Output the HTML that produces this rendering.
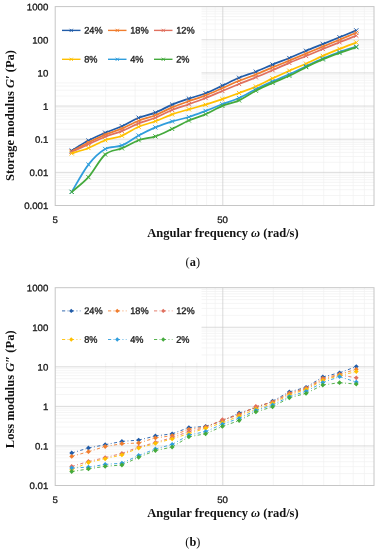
<!DOCTYPE html>
<html><head><meta charset="utf-8"><title>Figure</title>
<style>
html,body{margin:0;padding:0;background:#fff}
svg{display:block}
.ax{font-family:"Liberation Sans",Arial,sans-serif;font-size:10px;fill:#202020;stroke:#202020;stroke-width:.33px}
.lg{font-family:"Liberation Sans",Arial,sans-serif;font-size:10px;fill:#1c1c1c;stroke:#1c1c1c;stroke-width:.35px}
.ti{font-family:"Liberation Serif","Times New Roman",serif;font-size:12.5px;font-weight:bold;fill:#111}
.cp{font-family:"Liberation Serif","Times New Roman",serif;font-size:12.3px;fill:#111}
</style></head><body>
<svg width="377" height="550" viewBox="0 0 377 550">
<rect width="377" height="550" fill="#fff"/>
<g stroke="#f1f1f1" stroke-width="0.7"><line x1="55.2" x2="374.0" y1="29.77" y2="29.77"/><line x1="55.2" x2="374.0" y1="23.93" y2="23.93"/><line x1="55.2" x2="374.0" y1="19.79" y2="19.79"/><line x1="55.2" x2="374.0" y1="16.58" y2="16.58"/><line x1="55.2" x2="374.0" y1="13.95" y2="13.95"/><line x1="55.2" x2="374.0" y1="11.73" y2="11.73"/><line x1="55.2" x2="374.0" y1="9.81" y2="9.81"/><line x1="55.2" x2="374.0" y1="8.12" y2="8.12"/><line x1="55.2" x2="374.0" y1="62.92" y2="62.92"/><line x1="55.2" x2="374.0" y1="57.08" y2="57.08"/><line x1="55.2" x2="374.0" y1="52.94" y2="52.94"/><line x1="55.2" x2="374.0" y1="49.73" y2="49.73"/><line x1="55.2" x2="374.0" y1="47.10" y2="47.10"/><line x1="55.2" x2="374.0" y1="44.88" y2="44.88"/><line x1="55.2" x2="374.0" y1="42.96" y2="42.96"/><line x1="55.2" x2="374.0" y1="41.27" y2="41.27"/><line x1="55.2" x2="374.0" y1="96.07" y2="96.07"/><line x1="55.2" x2="374.0" y1="90.23" y2="90.23"/><line x1="55.2" x2="374.0" y1="86.09" y2="86.09"/><line x1="55.2" x2="374.0" y1="82.88" y2="82.88"/><line x1="55.2" x2="374.0" y1="80.25" y2="80.25"/><line x1="55.2" x2="374.0" y1="78.03" y2="78.03"/><line x1="55.2" x2="374.0" y1="76.11" y2="76.11"/><line x1="55.2" x2="374.0" y1="74.42" y2="74.42"/><line x1="55.2" x2="374.0" y1="129.22" y2="129.22"/><line x1="55.2" x2="374.0" y1="123.38" y2="123.38"/><line x1="55.2" x2="374.0" y1="119.24" y2="119.24"/><line x1="55.2" x2="374.0" y1="116.03" y2="116.03"/><line x1="55.2" x2="374.0" y1="113.40" y2="113.40"/><line x1="55.2" x2="374.0" y1="111.18" y2="111.18"/><line x1="55.2" x2="374.0" y1="109.26" y2="109.26"/><line x1="55.2" x2="374.0" y1="107.57" y2="107.57"/><line x1="55.2" x2="374.0" y1="162.37" y2="162.37"/><line x1="55.2" x2="374.0" y1="156.53" y2="156.53"/><line x1="55.2" x2="374.0" y1="152.39" y2="152.39"/><line x1="55.2" x2="374.0" y1="149.18" y2="149.18"/><line x1="55.2" x2="374.0" y1="146.55" y2="146.55"/><line x1="55.2" x2="374.0" y1="144.33" y2="144.33"/><line x1="55.2" x2="374.0" y1="142.41" y2="142.41"/><line x1="55.2" x2="374.0" y1="140.72" y2="140.72"/><line x1="55.2" x2="374.0" y1="195.52" y2="195.52"/><line x1="55.2" x2="374.0" y1="189.68" y2="189.68"/><line x1="55.2" x2="374.0" y1="185.54" y2="185.54"/><line x1="55.2" x2="374.0" y1="182.33" y2="182.33"/><line x1="55.2" x2="374.0" y1="179.70" y2="179.70"/><line x1="55.2" x2="374.0" y1="177.48" y2="177.48"/><line x1="55.2" x2="374.0" y1="175.56" y2="175.56"/><line x1="55.2" x2="374.0" y1="173.87" y2="173.87"/><line x1="105.65" x2="105.65" y1="6.6" y2="205.5"/><line x1="135.17" x2="135.17" y1="6.6" y2="205.5"/><line x1="156.11" x2="156.11" y1="6.6" y2="205.5"/><line x1="172.35" x2="172.35" y1="6.6" y2="205.5"/><line x1="185.62" x2="185.62" y1="6.6" y2="205.5"/><line x1="196.84" x2="196.84" y1="6.6" y2="205.5"/><line x1="206.56" x2="206.56" y1="6.6" y2="205.5"/><line x1="215.13" x2="215.13" y1="6.6" y2="205.5"/><line x1="273.25" x2="273.25" y1="6.6" y2="205.5"/><line x1="302.77" x2="302.77" y1="6.6" y2="205.5"/><line x1="323.71" x2="323.71" y1="6.6" y2="205.5"/><line x1="339.95" x2="339.95" y1="6.6" y2="205.5"/><line x1="353.22" x2="353.22" y1="6.6" y2="205.5"/><line x1="364.44" x2="364.44" y1="6.6" y2="205.5"/></g>
<g stroke="#cccccc" stroke-width="0.7"><line x1="55.2" x2="374.0" y1="39.75" y2="39.75"/><line x1="55.2" x2="374.0" y1="72.90" y2="72.90"/><line x1="55.2" x2="374.0" y1="106.05" y2="106.05"/><line x1="55.2" x2="374.0" y1="139.20" y2="139.20"/><line x1="55.2" x2="374.0" y1="172.35" y2="172.35"/><line x1="222.80" x2="222.80" y1="6.6" y2="205.5"/></g>
<rect x="55.2" y="6.6" width="146.3" height="75" fill="#fff"/>
<rect x="55.2" y="6.6" width="318.8" height="198.9" fill="none" stroke="#c6c6c6" stroke-width="1"/>
<path d="M71.70,150.60 C74.49,148.93 82.86,143.58 88.44,140.60 C94.02,137.62 99.60,135.08 105.18,132.70 C110.76,130.32 116.34,128.80 121.92,126.30 C127.50,123.80 133.08,119.98 138.66,117.70 C144.24,115.42 149.82,114.78 155.40,112.60 C160.98,110.42 166.56,106.93 172.14,104.60 C177.72,102.27 183.30,100.50 188.88,98.60 C194.46,96.70 200.04,95.37 205.62,93.20 C211.20,91.03 216.78,88.17 222.36,85.60 C227.94,83.03 233.52,80.12 239.10,77.80 C244.68,75.48 250.26,73.90 255.84,71.70 C261.42,69.50 267.00,66.88 272.58,64.60 C278.16,62.32 283.74,60.30 289.32,58.00 C294.90,55.70 300.48,53.12 306.06,50.80 C311.64,48.48 317.22,46.35 322.80,44.10 C328.38,41.85 333.96,39.58 339.54,37.30 C345.12,35.02 353.49,31.55 356.28,30.40" fill="none" stroke="#215ca8" stroke-width="1.75" stroke-linejoin="round"/>
<path d="M69.60,148.50 l4.2,4.2 m-4.2,0 l4.2,-4.2M86.34,138.50 l4.2,4.2 m-4.2,0 l4.2,-4.2M103.08,130.60 l4.2,4.2 m-4.2,0 l4.2,-4.2M119.82,124.20 l4.2,4.2 m-4.2,0 l4.2,-4.2M136.56,115.60 l4.2,4.2 m-4.2,0 l4.2,-4.2M153.30,110.50 l4.2,4.2 m-4.2,0 l4.2,-4.2M170.04,102.50 l4.2,4.2 m-4.2,0 l4.2,-4.2M186.78,96.50 l4.2,4.2 m-4.2,0 l4.2,-4.2M203.52,91.10 l4.2,4.2 m-4.2,0 l4.2,-4.2M220.26,83.50 l4.2,4.2 m-4.2,0 l4.2,-4.2M237.00,75.70 l4.2,4.2 m-4.2,0 l4.2,-4.2M253.74,69.60 l4.2,4.2 m-4.2,0 l4.2,-4.2M270.48,62.50 l4.2,4.2 m-4.2,0 l4.2,-4.2M287.22,55.90 l4.2,4.2 m-4.2,0 l4.2,-4.2M303.96,48.70 l4.2,4.2 m-4.2,0 l4.2,-4.2M320.70,42.00 l4.2,4.2 m-4.2,0 l4.2,-4.2M337.44,35.20 l4.2,4.2 m-4.2,0 l4.2,-4.2M354.18,28.30 l4.2,4.2 m-4.2,0 l4.2,-4.2" fill="none" stroke="#215ca8" stroke-width="1"/>
<path d="M71.70,151.40 C74.49,149.92 82.86,145.30 88.44,142.50 C94.02,139.70 99.60,136.92 105.18,134.60 C110.76,132.28 116.34,130.92 121.92,128.60 C127.50,126.28 133.08,122.93 138.66,120.70 C144.24,118.47 149.82,117.42 155.40,115.20 C160.98,112.98 166.56,109.73 172.14,107.40 C177.72,105.07 183.30,103.20 188.88,101.20 C194.46,99.20 200.04,97.57 205.62,95.40 C211.20,93.23 216.78,90.63 222.36,88.20 C227.94,85.77 233.52,83.08 239.10,80.80 C244.68,78.52 250.26,76.73 255.84,74.50 C261.42,72.27 267.00,69.72 272.58,67.40 C278.16,65.08 283.74,62.90 289.32,60.60 C294.90,58.30 300.48,55.93 306.06,53.60 C311.64,51.27 317.22,48.92 322.80,46.60 C328.38,44.28 333.96,42.00 339.54,39.70 C345.12,37.40 353.49,33.95 356.28,32.80" fill="none" stroke="#f07d2e" stroke-width="1.75" stroke-linejoin="round"/>
<path d="M69.60,149.30 l4.2,4.2 m-4.2,0 l4.2,-4.2M86.34,140.40 l4.2,4.2 m-4.2,0 l4.2,-4.2M103.08,132.50 l4.2,4.2 m-4.2,0 l4.2,-4.2M119.82,126.50 l4.2,4.2 m-4.2,0 l4.2,-4.2M136.56,118.60 l4.2,4.2 m-4.2,0 l4.2,-4.2M153.30,113.10 l4.2,4.2 m-4.2,0 l4.2,-4.2M170.04,105.30 l4.2,4.2 m-4.2,0 l4.2,-4.2M186.78,99.10 l4.2,4.2 m-4.2,0 l4.2,-4.2M203.52,93.30 l4.2,4.2 m-4.2,0 l4.2,-4.2M220.26,86.10 l4.2,4.2 m-4.2,0 l4.2,-4.2M237.00,78.70 l4.2,4.2 m-4.2,0 l4.2,-4.2M253.74,72.40 l4.2,4.2 m-4.2,0 l4.2,-4.2M270.48,65.30 l4.2,4.2 m-4.2,0 l4.2,-4.2M287.22,58.50 l4.2,4.2 m-4.2,0 l4.2,-4.2M303.96,51.50 l4.2,4.2 m-4.2,0 l4.2,-4.2M320.70,44.50 l4.2,4.2 m-4.2,0 l4.2,-4.2M337.44,37.60 l4.2,4.2 m-4.2,0 l4.2,-4.2M354.18,30.70 l4.2,4.2 m-4.2,0 l4.2,-4.2" fill="none" stroke="#f07d2e" stroke-width="1"/>
<path d="M71.70,152.00 C74.49,150.72 82.86,146.85 88.44,144.30 C94.02,141.75 99.60,138.90 105.18,136.70 C110.76,134.50 116.34,133.32 121.92,131.10 C127.50,128.88 133.08,125.62 138.66,123.40 C144.24,121.18 149.82,120.03 155.40,117.80 C160.98,115.57 166.56,112.27 172.14,110.00 C177.72,107.73 183.30,106.20 188.88,104.20 C194.46,102.20 200.04,100.20 205.62,98.00 C211.20,95.80 216.78,93.33 222.36,91.00 C227.94,88.67 233.52,86.28 239.10,84.00 C244.68,81.72 250.26,79.60 255.84,77.30 C261.42,75.00 267.00,72.60 272.58,70.20 C278.16,67.80 283.74,65.27 289.32,62.90 C294.90,60.53 300.48,58.32 306.06,56.00 C311.64,53.68 317.22,51.28 322.80,49.00 C328.38,46.72 333.96,44.53 339.54,42.30 C345.12,40.07 353.49,36.72 356.28,35.60" fill="none" stroke="#e0705f" stroke-width="1.75" stroke-linejoin="round"/>
<path d="M69.60,149.90 l4.2,4.2 m-4.2,0 l4.2,-4.2M86.34,142.20 l4.2,4.2 m-4.2,0 l4.2,-4.2M103.08,134.60 l4.2,4.2 m-4.2,0 l4.2,-4.2M119.82,129.00 l4.2,4.2 m-4.2,0 l4.2,-4.2M136.56,121.30 l4.2,4.2 m-4.2,0 l4.2,-4.2M153.30,115.70 l4.2,4.2 m-4.2,0 l4.2,-4.2M170.04,107.90 l4.2,4.2 m-4.2,0 l4.2,-4.2M186.78,102.10 l4.2,4.2 m-4.2,0 l4.2,-4.2M203.52,95.90 l4.2,4.2 m-4.2,0 l4.2,-4.2M220.26,88.90 l4.2,4.2 m-4.2,0 l4.2,-4.2M237.00,81.90 l4.2,4.2 m-4.2,0 l4.2,-4.2M253.74,75.20 l4.2,4.2 m-4.2,0 l4.2,-4.2M270.48,68.10 l4.2,4.2 m-4.2,0 l4.2,-4.2M287.22,60.80 l4.2,4.2 m-4.2,0 l4.2,-4.2M303.96,53.90 l4.2,4.2 m-4.2,0 l4.2,-4.2M320.70,46.90 l4.2,4.2 m-4.2,0 l4.2,-4.2M337.44,40.20 l4.2,4.2 m-4.2,0 l4.2,-4.2M354.18,33.50 l4.2,4.2 m-4.2,0 l4.2,-4.2" fill="none" stroke="#e0705f" stroke-width="1"/>
<path d="M71.70,153.40 C74.49,152.50 82.86,150.20 88.44,148.00 C94.02,145.80 99.60,142.25 105.18,140.20 C110.76,138.15 116.34,137.93 121.92,135.70 C127.50,133.47 133.08,129.22 138.66,126.80 C144.24,124.38 149.82,123.27 155.40,121.20 C160.98,119.13 166.56,116.38 172.14,114.40 C177.72,112.42 183.30,110.92 188.88,109.30 C194.46,107.68 200.04,106.40 205.62,104.70 C211.20,103.00 216.78,101.05 222.36,99.10 C227.94,97.15 233.52,95.10 239.10,93.00 C244.68,90.90 250.26,88.93 255.84,86.50 C261.42,84.07 267.00,81.03 272.58,78.40 C278.16,75.77 283.74,73.15 289.32,70.70 C294.90,68.25 300.48,66.17 306.06,63.70 C311.64,61.23 317.22,58.37 322.80,55.90 C328.38,53.43 333.96,51.13 339.54,48.90 C345.12,46.67 353.49,43.57 356.28,42.50" fill="none" stroke="#ffc000" stroke-width="1.75" stroke-linejoin="round"/>
<path d="M69.60,151.30 l4.2,4.2 m-4.2,0 l4.2,-4.2M86.34,145.90 l4.2,4.2 m-4.2,0 l4.2,-4.2M103.08,138.10 l4.2,4.2 m-4.2,0 l4.2,-4.2M119.82,133.60 l4.2,4.2 m-4.2,0 l4.2,-4.2M136.56,124.70 l4.2,4.2 m-4.2,0 l4.2,-4.2M153.30,119.10 l4.2,4.2 m-4.2,0 l4.2,-4.2M170.04,112.30 l4.2,4.2 m-4.2,0 l4.2,-4.2M186.78,107.20 l4.2,4.2 m-4.2,0 l4.2,-4.2M203.52,102.60 l4.2,4.2 m-4.2,0 l4.2,-4.2M220.26,97.00 l4.2,4.2 m-4.2,0 l4.2,-4.2M237.00,90.90 l4.2,4.2 m-4.2,0 l4.2,-4.2M253.74,84.40 l4.2,4.2 m-4.2,0 l4.2,-4.2M270.48,76.30 l4.2,4.2 m-4.2,0 l4.2,-4.2M287.22,68.60 l4.2,4.2 m-4.2,0 l4.2,-4.2M303.96,61.60 l4.2,4.2 m-4.2,0 l4.2,-4.2M320.70,53.80 l4.2,4.2 m-4.2,0 l4.2,-4.2M337.44,46.80 l4.2,4.2 m-4.2,0 l4.2,-4.2M354.18,40.40 l4.2,4.2 m-4.2,0 l4.2,-4.2" fill="none" stroke="#ffc000" stroke-width="1"/>
<path d="M71.70,191.90 C74.49,187.35 82.86,171.75 88.44,164.60 C94.02,157.45 99.60,152.20 105.18,149.00 C110.76,145.80 116.34,147.65 121.92,145.40 C127.50,143.15 133.08,138.50 138.66,135.50 C144.24,132.50 149.82,129.75 155.40,127.40 C160.98,125.05 166.56,123.13 172.14,121.40 C177.72,119.67 183.30,118.75 188.88,117.00 C194.46,115.25 200.04,113.03 205.62,110.90 C211.20,108.77 216.78,106.35 222.36,104.20 C227.94,102.05 233.52,100.50 239.10,98.00 C244.68,95.50 250.26,91.97 255.84,89.20 C261.42,86.43 267.00,83.88 272.58,81.40 C278.16,78.92 283.74,76.83 289.32,74.30 C294.90,71.77 300.48,68.83 306.06,66.20 C311.64,63.57 317.22,60.87 322.80,58.50 C328.38,56.13 333.96,53.97 339.54,52.00 C345.12,50.03 353.49,47.58 356.28,46.70" fill="none" stroke="#2f9ddc" stroke-width="1.75" stroke-linejoin="round"/>
<path d="M69.60,189.80 l4.2,4.2 m-4.2,0 l4.2,-4.2M86.34,162.50 l4.2,4.2 m-4.2,0 l4.2,-4.2M103.08,146.90 l4.2,4.2 m-4.2,0 l4.2,-4.2M119.82,143.30 l4.2,4.2 m-4.2,0 l4.2,-4.2M136.56,133.40 l4.2,4.2 m-4.2,0 l4.2,-4.2M153.30,125.30 l4.2,4.2 m-4.2,0 l4.2,-4.2M170.04,119.30 l4.2,4.2 m-4.2,0 l4.2,-4.2M186.78,114.90 l4.2,4.2 m-4.2,0 l4.2,-4.2M203.52,108.80 l4.2,4.2 m-4.2,0 l4.2,-4.2M220.26,102.10 l4.2,4.2 m-4.2,0 l4.2,-4.2M237.00,95.90 l4.2,4.2 m-4.2,0 l4.2,-4.2M253.74,87.10 l4.2,4.2 m-4.2,0 l4.2,-4.2M270.48,79.30 l4.2,4.2 m-4.2,0 l4.2,-4.2M287.22,72.20 l4.2,4.2 m-4.2,0 l4.2,-4.2M303.96,64.10 l4.2,4.2 m-4.2,0 l4.2,-4.2M320.70,56.40 l4.2,4.2 m-4.2,0 l4.2,-4.2M337.44,49.90 l4.2,4.2 m-4.2,0 l4.2,-4.2M354.18,44.60 l4.2,4.2 m-4.2,0 l4.2,-4.2" fill="none" stroke="#2f9ddc" stroke-width="1"/>
<path d="M71.70,191.90 C74.49,189.45 82.86,183.43 88.44,177.20 C94.02,170.97 99.60,159.32 105.18,154.50 C110.76,149.68 116.34,150.68 121.92,148.30 C127.50,145.92 133.08,142.18 138.66,140.20 C144.24,138.22 149.82,138.28 155.40,136.40 C160.98,134.52 166.56,131.55 172.14,128.90 C177.72,126.25 183.30,122.95 188.88,120.50 C194.46,118.05 200.04,116.63 205.62,114.20 C211.20,111.77 216.78,108.20 222.36,105.90 C227.94,103.60 233.52,102.93 239.10,100.40 C244.68,97.87 250.26,93.62 255.84,90.70 C261.42,87.78 267.00,85.38 272.58,82.90 C278.16,80.42 283.74,78.43 289.32,75.80 C294.90,73.17 300.48,69.83 306.06,67.10 C311.64,64.37 317.22,61.75 322.80,59.40 C328.38,57.05 333.96,55.03 339.54,53.00 C345.12,50.97 353.49,48.17 356.28,47.20" fill="none" stroke="#44aa3c" stroke-width="1.75" stroke-linejoin="round"/>
<path d="M69.60,189.80 l4.2,4.2 m-4.2,0 l4.2,-4.2M86.34,175.10 l4.2,4.2 m-4.2,0 l4.2,-4.2M103.08,152.40 l4.2,4.2 m-4.2,0 l4.2,-4.2M119.82,146.20 l4.2,4.2 m-4.2,0 l4.2,-4.2M136.56,138.10 l4.2,4.2 m-4.2,0 l4.2,-4.2M153.30,134.30 l4.2,4.2 m-4.2,0 l4.2,-4.2M170.04,126.80 l4.2,4.2 m-4.2,0 l4.2,-4.2M186.78,118.40 l4.2,4.2 m-4.2,0 l4.2,-4.2M203.52,112.10 l4.2,4.2 m-4.2,0 l4.2,-4.2M220.26,103.80 l4.2,4.2 m-4.2,0 l4.2,-4.2M237.00,98.30 l4.2,4.2 m-4.2,0 l4.2,-4.2M253.74,88.60 l4.2,4.2 m-4.2,0 l4.2,-4.2M270.48,80.80 l4.2,4.2 m-4.2,0 l4.2,-4.2M287.22,73.70 l4.2,4.2 m-4.2,0 l4.2,-4.2M303.96,65.00 l4.2,4.2 m-4.2,0 l4.2,-4.2M320.70,57.30 l4.2,4.2 m-4.2,0 l4.2,-4.2M337.44,50.90 l4.2,4.2 m-4.2,0 l4.2,-4.2M354.18,45.10 l4.2,4.2 m-4.2,0 l4.2,-4.2" fill="none" stroke="#44aa3c" stroke-width="1"/>
<path d="M62.0,30.4 h18.5" stroke="#215ca8" stroke-width="1.4" fill="none"/>
<path d="M69.65,28.80 l3.2,3.2 m-3.2,0 l3.2,-3.2" stroke="#215ca8" stroke-width="0.9" fill="none"/>
<text transform="translate(84.2,33.6) scale(0.92,0.95) rotate(0.03)" class="lg">24%</text>
<path d="M108.0,30.4 h18.5" stroke="#f07d2e" stroke-width="1.4" fill="none"/>
<path d="M115.65,28.80 l3.2,3.2 m-3.2,0 l3.2,-3.2" stroke="#f07d2e" stroke-width="0.9" fill="none"/>
<text transform="translate(130.2,33.6) scale(0.92,0.95) rotate(0.03)" class="lg">18%</text>
<path d="M154.0,30.4 h18.5" stroke="#e0705f" stroke-width="1.4" fill="none"/>
<path d="M161.65,28.80 l3.2,3.2 m-3.2,0 l3.2,-3.2" stroke="#e0705f" stroke-width="0.9" fill="none"/>
<text transform="translate(176.2,33.6) scale(0.92,0.95) rotate(0.03)" class="lg">12%</text>
<path d="M62.0,59.3 h18.5" stroke="#ffc000" stroke-width="1.4" fill="none"/>
<path d="M69.65,57.70 l3.2,3.2 m-3.2,0 l3.2,-3.2" stroke="#ffc000" stroke-width="0.9" fill="none"/>
<text transform="translate(84.2,62.5) scale(0.92,0.95) rotate(0.03)" class="lg">8%</text>
<path d="M108.0,59.3 h18.5" stroke="#2f9ddc" stroke-width="1.4" fill="none"/>
<path d="M115.65,57.70 l3.2,3.2 m-3.2,0 l3.2,-3.2" stroke="#2f9ddc" stroke-width="0.9" fill="none"/>
<text transform="translate(130.2,62.5) scale(0.92,0.95) rotate(0.03)" class="lg">4%</text>
<path d="M154.0,59.3 h18.5" stroke="#44aa3c" stroke-width="1.4" fill="none"/>
<path d="M161.65,57.70 l3.2,3.2 m-3.2,0 l3.2,-3.2" stroke="#44aa3c" stroke-width="0.9" fill="none"/>
<text transform="translate(176.2,62.5) scale(0.92,0.95) rotate(0.03)" class="lg">2%</text>
<text transform="translate(48.3,10.2) scale(0.965,0.93) rotate(0.03)" class="ax" text-anchor="end">1000</text>
<text transform="translate(48.3,43.4) scale(0.965,0.93) rotate(0.03)" class="ax" text-anchor="end">100</text>
<text transform="translate(48.3,76.5) scale(0.965,0.93) rotate(0.03)" class="ax" text-anchor="end">10</text>
<text transform="translate(48.3,109.7) scale(0.965,0.93) rotate(0.03)" class="ax" text-anchor="end">1</text>
<text transform="translate(48.3,142.8) scale(0.965,0.93) rotate(0.03)" class="ax" text-anchor="end">0.1</text>
<text transform="translate(48.3,176.0) scale(0.965,0.93) rotate(0.03)" class="ax" text-anchor="end">0.01</text>
<text transform="translate(48.3,209.1) scale(0.965,0.93) rotate(0.03)" class="ax" text-anchor="end">0.001</text>
<text transform="translate(55.2,222.9) scale(0.965,0.93) rotate(0.03)" class="ax" text-anchor="middle">5</text>
<text transform="translate(222.6,222.9) scale(0.965,0.93) rotate(0.03)" class="ax" text-anchor="middle">50</text>
<text x="223" y="236.7" class="ti" text-anchor="middle">Angular frequency <tspan font-style="italic">ω</tspan> (rad/s)</text>
<text transform="translate(13.7,115.5) rotate(-90)" class="ti" text-anchor="middle">Storage modulus <tspan font-style="italic">G′</tspan> (Pa)</text>
<text x="192.8" y="266.3" class="cp" text-anchor="middle">(<tspan font-weight="bold">a</tspan>)</text>
<g stroke="#f1f1f1" stroke-width="0.7"><line x1="55.2" x2="374.0" y1="315.35" y2="315.35"/><line x1="55.2" x2="374.0" y1="308.39" y2="308.39"/><line x1="55.2" x2="374.0" y1="303.44" y2="303.44"/><line x1="55.2" x2="374.0" y1="299.61" y2="299.61"/><line x1="55.2" x2="374.0" y1="296.48" y2="296.48"/><line x1="55.2" x2="374.0" y1="293.83" y2="293.83"/><line x1="55.2" x2="374.0" y1="291.53" y2="291.53"/><line x1="55.2" x2="374.0" y1="289.51" y2="289.51"/><line x1="55.2" x2="374.0" y1="354.91" y2="354.91"/><line x1="55.2" x2="374.0" y1="347.95" y2="347.95"/><line x1="55.2" x2="374.0" y1="343.00" y2="343.00"/><line x1="55.2" x2="374.0" y1="339.17" y2="339.17"/><line x1="55.2" x2="374.0" y1="336.04" y2="336.04"/><line x1="55.2" x2="374.0" y1="333.39" y2="333.39"/><line x1="55.2" x2="374.0" y1="331.09" y2="331.09"/><line x1="55.2" x2="374.0" y1="329.07" y2="329.07"/><line x1="55.2" x2="374.0" y1="394.47" y2="394.47"/><line x1="55.2" x2="374.0" y1="387.51" y2="387.51"/><line x1="55.2" x2="374.0" y1="382.56" y2="382.56"/><line x1="55.2" x2="374.0" y1="378.73" y2="378.73"/><line x1="55.2" x2="374.0" y1="375.60" y2="375.60"/><line x1="55.2" x2="374.0" y1="372.95" y2="372.95"/><line x1="55.2" x2="374.0" y1="370.65" y2="370.65"/><line x1="55.2" x2="374.0" y1="368.63" y2="368.63"/><line x1="55.2" x2="374.0" y1="434.03" y2="434.03"/><line x1="55.2" x2="374.0" y1="427.07" y2="427.07"/><line x1="55.2" x2="374.0" y1="422.12" y2="422.12"/><line x1="55.2" x2="374.0" y1="418.29" y2="418.29"/><line x1="55.2" x2="374.0" y1="415.16" y2="415.16"/><line x1="55.2" x2="374.0" y1="412.51" y2="412.51"/><line x1="55.2" x2="374.0" y1="410.21" y2="410.21"/><line x1="55.2" x2="374.0" y1="408.19" y2="408.19"/><line x1="55.2" x2="374.0" y1="473.59" y2="473.59"/><line x1="55.2" x2="374.0" y1="466.63" y2="466.63"/><line x1="55.2" x2="374.0" y1="461.68" y2="461.68"/><line x1="55.2" x2="374.0" y1="457.85" y2="457.85"/><line x1="55.2" x2="374.0" y1="454.72" y2="454.72"/><line x1="55.2" x2="374.0" y1="452.07" y2="452.07"/><line x1="55.2" x2="374.0" y1="449.77" y2="449.77"/><line x1="55.2" x2="374.0" y1="447.75" y2="447.75"/><line x1="105.65" x2="105.65" y1="287.7" y2="485.5"/><line x1="135.17" x2="135.17" y1="287.7" y2="485.5"/><line x1="156.11" x2="156.11" y1="287.7" y2="485.5"/><line x1="172.35" x2="172.35" y1="287.7" y2="485.5"/><line x1="185.62" x2="185.62" y1="287.7" y2="485.5"/><line x1="196.84" x2="196.84" y1="287.7" y2="485.5"/><line x1="206.56" x2="206.56" y1="287.7" y2="485.5"/><line x1="215.13" x2="215.13" y1="287.7" y2="485.5"/><line x1="273.25" x2="273.25" y1="287.7" y2="485.5"/><line x1="302.77" x2="302.77" y1="287.7" y2="485.5"/><line x1="323.71" x2="323.71" y1="287.7" y2="485.5"/><line x1="339.95" x2="339.95" y1="287.7" y2="485.5"/><line x1="353.22" x2="353.22" y1="287.7" y2="485.5"/><line x1="364.44" x2="364.44" y1="287.7" y2="485.5"/></g>
<g stroke="#cccccc" stroke-width="0.7"><line x1="55.2" x2="374.0" y1="327.26" y2="327.26"/><line x1="55.2" x2="374.0" y1="366.82" y2="366.82"/><line x1="55.2" x2="374.0" y1="406.38" y2="406.38"/><line x1="55.2" x2="374.0" y1="445.94" y2="445.94"/><line x1="222.80" x2="222.80" y1="287.7" y2="485.5"/></g>
<rect x="55.2" y="287.7" width="146.3" height="75" fill="#fff"/>
<rect x="55.2" y="287.7" width="318.8" height="197.8" fill="none" stroke="#c6c6c6" stroke-width="1"/>
<g fill="none" stroke="#215ca8" stroke-width="0.9" stroke-dasharray="3.2,2.4,0.9,2.4"><path d="M71.70,453.00 L88.44,448.00"/><path d="M88.44,448.00 L105.18,444.70"/><path d="M105.18,444.70 L121.92,441.40"/><path d="M121.92,441.40 L138.66,440.10"/><path d="M138.66,440.10 L155.40,436.00"/><path d="M155.40,436.00 L172.14,433.80"/><path d="M172.14,433.80 L188.88,427.60"/><path d="M188.88,427.60 L205.62,426.30"/><path d="M205.62,426.30 L222.36,421.00"/><path d="M222.36,421.00 L239.10,413.00"/><path d="M239.10,413.00 L255.84,407.90"/><path d="M255.84,407.90 L272.58,401.10"/><path d="M272.58,401.10 L289.32,391.90"/><path d="M289.32,391.90 L306.06,387.30"/><path d="M306.06,387.30 L322.80,376.90"/><path d="M322.80,376.90 L339.54,372.80"/><path d="M339.54,372.80 L356.28,366.60"/></g>
<path d="M71.70,450.60 l2.4,2.4 l-2.4,2.4 l-2.4,-2.4zM88.44,445.60 l2.4,2.4 l-2.4,2.4 l-2.4,-2.4zM105.18,442.30 l2.4,2.4 l-2.4,2.4 l-2.4,-2.4zM121.92,439.00 l2.4,2.4 l-2.4,2.4 l-2.4,-2.4zM138.66,437.70 l2.4,2.4 l-2.4,2.4 l-2.4,-2.4zM155.40,433.60 l2.4,2.4 l-2.4,2.4 l-2.4,-2.4zM172.14,431.40 l2.4,2.4 l-2.4,2.4 l-2.4,-2.4zM188.88,425.20 l2.4,2.4 l-2.4,2.4 l-2.4,-2.4zM205.62,423.90 l2.4,2.4 l-2.4,2.4 l-2.4,-2.4zM222.36,418.60 l2.4,2.4 l-2.4,2.4 l-2.4,-2.4zM239.10,410.60 l2.4,2.4 l-2.4,2.4 l-2.4,-2.4zM255.84,405.50 l2.4,2.4 l-2.4,2.4 l-2.4,-2.4zM272.58,398.70 l2.4,2.4 l-2.4,2.4 l-2.4,-2.4zM289.32,389.50 l2.4,2.4 l-2.4,2.4 l-2.4,-2.4zM306.06,384.90 l2.4,2.4 l-2.4,2.4 l-2.4,-2.4zM322.80,374.50 l2.4,2.4 l-2.4,2.4 l-2.4,-2.4zM339.54,370.40 l2.4,2.4 l-2.4,2.4 l-2.4,-2.4zM356.28,364.20 l2.4,2.4 l-2.4,2.4 l-2.4,-2.4z" fill="#215ca8"/>
<g fill="none" stroke="#f07d2e" stroke-width="0.9" stroke-dasharray="3.2,2.4,0.9,2.4"><path d="M71.70,456.40 L88.44,451.70"/><path d="M88.44,451.70 L105.18,446.50"/><path d="M105.18,446.50 L121.92,443.70"/><path d="M121.92,443.70 L138.66,443.00"/><path d="M138.66,443.00 L155.40,437.90"/><path d="M155.40,437.90 L172.14,435.70"/><path d="M172.14,435.70 L188.88,429.30"/><path d="M188.88,429.30 L205.62,427.00"/><path d="M205.62,427.00 L222.36,420.30"/><path d="M222.36,420.30 L239.10,414.20"/><path d="M239.10,414.20 L255.84,407.00"/><path d="M255.84,407.00 L272.58,401.90"/><path d="M272.58,401.90 L289.32,393.20"/><path d="M289.32,393.20 L306.06,388.10"/><path d="M306.06,388.10 L322.80,378.30"/><path d="M322.80,378.30 L339.54,374.30"/><path d="M339.54,374.30 L356.28,369.30"/></g>
<path d="M71.70,454.00 l2.4,2.4 l-2.4,2.4 l-2.4,-2.4zM88.44,449.30 l2.4,2.4 l-2.4,2.4 l-2.4,-2.4zM105.18,444.10 l2.4,2.4 l-2.4,2.4 l-2.4,-2.4zM121.92,441.30 l2.4,2.4 l-2.4,2.4 l-2.4,-2.4zM138.66,440.60 l2.4,2.4 l-2.4,2.4 l-2.4,-2.4zM155.40,435.50 l2.4,2.4 l-2.4,2.4 l-2.4,-2.4zM172.14,433.30 l2.4,2.4 l-2.4,2.4 l-2.4,-2.4zM188.88,426.90 l2.4,2.4 l-2.4,2.4 l-2.4,-2.4zM205.62,424.60 l2.4,2.4 l-2.4,2.4 l-2.4,-2.4zM222.36,417.90 l2.4,2.4 l-2.4,2.4 l-2.4,-2.4zM239.10,411.80 l2.4,2.4 l-2.4,2.4 l-2.4,-2.4zM255.84,404.60 l2.4,2.4 l-2.4,2.4 l-2.4,-2.4zM272.58,399.50 l2.4,2.4 l-2.4,2.4 l-2.4,-2.4zM289.32,390.80 l2.4,2.4 l-2.4,2.4 l-2.4,-2.4zM306.06,385.70 l2.4,2.4 l-2.4,2.4 l-2.4,-2.4zM322.80,375.90 l2.4,2.4 l-2.4,2.4 l-2.4,-2.4zM339.54,371.90 l2.4,2.4 l-2.4,2.4 l-2.4,-2.4zM356.28,366.90 l2.4,2.4 l-2.4,2.4 l-2.4,-2.4z" fill="#f07d2e"/>
<g fill="none" stroke="#e0705f" stroke-width="0.9" stroke-dasharray="3.2,2.4,0.9,2.4"><path d="M71.70,466.50 L88.44,461.50"/><path d="M88.44,461.50 L105.18,457.60"/><path d="M105.18,457.60 L121.92,453.40"/><path d="M121.92,453.40 L138.66,447.10"/><path d="M138.66,447.10 L155.40,442.50"/><path d="M155.40,442.50 L172.14,437.60"/><path d="M172.14,437.60 L188.88,431.50"/><path d="M188.88,431.50 L205.62,427.60"/><path d="M205.62,427.60 L222.36,419.70"/><path d="M222.36,419.70 L239.10,415.00"/><path d="M239.10,415.00 L255.84,406.50"/><path d="M255.84,406.50 L272.58,402.40"/><path d="M272.58,402.40 L289.32,393.80"/><path d="M289.32,393.80 L306.06,388.70"/><path d="M306.06,388.70 L322.80,379.50"/><path d="M322.80,379.50 L339.54,375.00"/><path d="M339.54,375.00 L356.28,377.80"/></g>
<path d="M71.70,464.10 l2.4,2.4 l-2.4,2.4 l-2.4,-2.4zM88.44,459.10 l2.4,2.4 l-2.4,2.4 l-2.4,-2.4zM105.18,455.20 l2.4,2.4 l-2.4,2.4 l-2.4,-2.4zM121.92,451.00 l2.4,2.4 l-2.4,2.4 l-2.4,-2.4zM138.66,444.70 l2.4,2.4 l-2.4,2.4 l-2.4,-2.4zM155.40,440.10 l2.4,2.4 l-2.4,2.4 l-2.4,-2.4zM172.14,435.20 l2.4,2.4 l-2.4,2.4 l-2.4,-2.4zM188.88,429.10 l2.4,2.4 l-2.4,2.4 l-2.4,-2.4zM205.62,425.20 l2.4,2.4 l-2.4,2.4 l-2.4,-2.4zM222.36,417.30 l2.4,2.4 l-2.4,2.4 l-2.4,-2.4zM239.10,412.60 l2.4,2.4 l-2.4,2.4 l-2.4,-2.4zM255.84,404.10 l2.4,2.4 l-2.4,2.4 l-2.4,-2.4zM272.58,400.00 l2.4,2.4 l-2.4,2.4 l-2.4,-2.4zM289.32,391.40 l2.4,2.4 l-2.4,2.4 l-2.4,-2.4zM306.06,386.30 l2.4,2.4 l-2.4,2.4 l-2.4,-2.4zM322.80,377.10 l2.4,2.4 l-2.4,2.4 l-2.4,-2.4zM339.54,372.60 l2.4,2.4 l-2.4,2.4 l-2.4,-2.4zM356.28,375.40 l2.4,2.4 l-2.4,2.4 l-2.4,-2.4z" fill="#e0705f"/>
<g fill="none" stroke="#ffc000" stroke-width="0.9" stroke-dasharray="3.2,2.4,0.9,2.4"><path d="M71.70,469.80 L88.44,462.50"/><path d="M88.44,462.50 L105.18,458.80"/><path d="M105.18,458.80 L121.92,454.90"/><path d="M121.92,454.90 L138.66,448.10"/><path d="M138.66,448.10 L155.40,443.40"/><path d="M155.40,443.40 L172.14,438.90"/><path d="M172.14,438.90 L188.88,433.60"/><path d="M188.88,433.60 L205.62,428.30"/><path d="M205.62,428.30 L222.36,422.70"/><path d="M222.36,422.70 L239.10,416.20"/><path d="M239.10,416.20 L255.84,409.00"/><path d="M255.84,409.00 L272.58,403.50"/><path d="M272.58,403.50 L289.32,395.00"/><path d="M289.32,395.00 L306.06,389.50"/><path d="M306.06,389.50 L322.80,380.50"/><path d="M322.80,380.50 L339.54,375.60"/><path d="M339.54,375.60 L356.28,371.60"/></g>
<path d="M71.70,467.40 l2.4,2.4 l-2.4,2.4 l-2.4,-2.4zM88.44,460.10 l2.4,2.4 l-2.4,2.4 l-2.4,-2.4zM105.18,456.40 l2.4,2.4 l-2.4,2.4 l-2.4,-2.4zM121.92,452.50 l2.4,2.4 l-2.4,2.4 l-2.4,-2.4zM138.66,445.70 l2.4,2.4 l-2.4,2.4 l-2.4,-2.4zM155.40,441.00 l2.4,2.4 l-2.4,2.4 l-2.4,-2.4zM172.14,436.50 l2.4,2.4 l-2.4,2.4 l-2.4,-2.4zM188.88,431.20 l2.4,2.4 l-2.4,2.4 l-2.4,-2.4zM205.62,425.90 l2.4,2.4 l-2.4,2.4 l-2.4,-2.4zM222.36,420.30 l2.4,2.4 l-2.4,2.4 l-2.4,-2.4zM239.10,413.80 l2.4,2.4 l-2.4,2.4 l-2.4,-2.4zM255.84,406.60 l2.4,2.4 l-2.4,2.4 l-2.4,-2.4zM272.58,401.10 l2.4,2.4 l-2.4,2.4 l-2.4,-2.4zM289.32,392.60 l2.4,2.4 l-2.4,2.4 l-2.4,-2.4zM306.06,387.10 l2.4,2.4 l-2.4,2.4 l-2.4,-2.4zM322.80,378.10 l2.4,2.4 l-2.4,2.4 l-2.4,-2.4zM339.54,373.20 l2.4,2.4 l-2.4,2.4 l-2.4,-2.4zM356.28,369.20 l2.4,2.4 l-2.4,2.4 l-2.4,-2.4z" fill="#ffc000"/>
<g fill="none" stroke="#2f9ddc" stroke-width="0.9" stroke-dasharray="3.2,2.4,0.9,2.4"><path d="M71.70,468.00 L88.44,467.20"/><path d="M88.44,467.20 L105.18,464.40"/><path d="M105.18,464.40 L121.92,463.20"/><path d="M121.92,463.20 L138.66,455.50"/><path d="M138.66,455.50 L155.40,449.00"/><path d="M155.40,449.00 L172.14,444.40"/><path d="M172.14,444.40 L188.88,435.10"/><path d="M188.88,435.10 L205.62,431.60"/><path d="M205.62,431.60 L222.36,424.20"/><path d="M222.36,424.20 L239.10,418.30"/><path d="M239.10,418.30 L255.84,410.40"/><path d="M255.84,410.40 L272.58,405.00"/><path d="M272.58,405.00 L289.32,396.60"/><path d="M289.32,396.60 L306.06,391.30"/><path d="M306.06,391.30 L322.80,382.60"/><path d="M322.80,382.60 L339.54,376.60"/><path d="M339.54,376.60 L356.28,382.10"/></g>
<path d="M71.70,465.60 l2.4,2.4 l-2.4,2.4 l-2.4,-2.4zM88.44,464.80 l2.4,2.4 l-2.4,2.4 l-2.4,-2.4zM105.18,462.00 l2.4,2.4 l-2.4,2.4 l-2.4,-2.4zM121.92,460.80 l2.4,2.4 l-2.4,2.4 l-2.4,-2.4zM138.66,453.10 l2.4,2.4 l-2.4,2.4 l-2.4,-2.4zM155.40,446.60 l2.4,2.4 l-2.4,2.4 l-2.4,-2.4zM172.14,442.00 l2.4,2.4 l-2.4,2.4 l-2.4,-2.4zM188.88,432.70 l2.4,2.4 l-2.4,2.4 l-2.4,-2.4zM205.62,429.20 l2.4,2.4 l-2.4,2.4 l-2.4,-2.4zM222.36,421.80 l2.4,2.4 l-2.4,2.4 l-2.4,-2.4zM239.10,415.90 l2.4,2.4 l-2.4,2.4 l-2.4,-2.4zM255.84,408.00 l2.4,2.4 l-2.4,2.4 l-2.4,-2.4zM272.58,402.60 l2.4,2.4 l-2.4,2.4 l-2.4,-2.4zM289.32,394.20 l2.4,2.4 l-2.4,2.4 l-2.4,-2.4zM306.06,388.90 l2.4,2.4 l-2.4,2.4 l-2.4,-2.4zM322.80,380.20 l2.4,2.4 l-2.4,2.4 l-2.4,-2.4zM339.54,374.20 l2.4,2.4 l-2.4,2.4 l-2.4,-2.4zM356.28,379.70 l2.4,2.4 l-2.4,2.4 l-2.4,-2.4z" fill="#2f9ddc"/>
<g fill="none" stroke="#44aa3c" stroke-width="0.9" stroke-dasharray="3.2,2.4,0.9,2.4"><path d="M71.70,471.60 L88.44,468.90"/><path d="M88.44,468.90 L105.18,466.30"/><path d="M105.18,466.30 L121.92,465.00"/><path d="M121.92,465.00 L138.66,457.30"/><path d="M138.66,457.30 L155.40,450.50"/><path d="M155.40,450.50 L172.14,447.10"/><path d="M172.14,447.10 L188.88,436.80"/><path d="M188.88,436.80 L205.62,433.80"/><path d="M205.62,433.80 L222.36,426.40"/><path d="M222.36,426.40 L239.10,420.60"/><path d="M239.10,420.60 L255.84,411.90"/><path d="M255.84,411.90 L272.58,406.80"/><path d="M272.58,406.80 L289.32,397.80"/><path d="M289.32,397.80 L306.06,393.40"/><path d="M306.06,393.40 L322.80,385.00"/><path d="M322.80,385.00 L339.54,382.70"/><path d="M339.54,382.70 L356.28,384.10"/></g>
<path d="M71.70,469.20 l2.4,2.4 l-2.4,2.4 l-2.4,-2.4zM88.44,466.50 l2.4,2.4 l-2.4,2.4 l-2.4,-2.4zM105.18,463.90 l2.4,2.4 l-2.4,2.4 l-2.4,-2.4zM121.92,462.60 l2.4,2.4 l-2.4,2.4 l-2.4,-2.4zM138.66,454.90 l2.4,2.4 l-2.4,2.4 l-2.4,-2.4zM155.40,448.10 l2.4,2.4 l-2.4,2.4 l-2.4,-2.4zM172.14,444.70 l2.4,2.4 l-2.4,2.4 l-2.4,-2.4zM188.88,434.40 l2.4,2.4 l-2.4,2.4 l-2.4,-2.4zM205.62,431.40 l2.4,2.4 l-2.4,2.4 l-2.4,-2.4zM222.36,424.00 l2.4,2.4 l-2.4,2.4 l-2.4,-2.4zM239.10,418.20 l2.4,2.4 l-2.4,2.4 l-2.4,-2.4zM255.84,409.50 l2.4,2.4 l-2.4,2.4 l-2.4,-2.4zM272.58,404.40 l2.4,2.4 l-2.4,2.4 l-2.4,-2.4zM289.32,395.40 l2.4,2.4 l-2.4,2.4 l-2.4,-2.4zM306.06,391.00 l2.4,2.4 l-2.4,2.4 l-2.4,-2.4zM322.80,382.60 l2.4,2.4 l-2.4,2.4 l-2.4,-2.4zM339.54,380.30 l2.4,2.4 l-2.4,2.4 l-2.4,-2.4zM356.28,381.70 l2.4,2.4 l-2.4,2.4 l-2.4,-2.4z" fill="#44aa3c"/>
<path d="M62.0,310.9 h18.5" stroke="#215ca8" stroke-width="0.9" stroke-dasharray="3.2,2.4,0.9,2.4" fill="none"/>
<path d="M71.25,308.70 l2.2,2.2 l-2.2,2.2 l-2.2,-2.2z" fill="#215ca8"/>
<text transform="translate(84.2,314.1) scale(0.92,0.95) rotate(0.03)" class="lg">24%</text>
<path d="M108.0,310.9 h18.5" stroke="#f07d2e" stroke-width="0.9" stroke-dasharray="3.2,2.4,0.9,2.4" fill="none"/>
<path d="M117.25,308.70 l2.2,2.2 l-2.2,2.2 l-2.2,-2.2z" fill="#f07d2e"/>
<text transform="translate(130.2,314.1) scale(0.92,0.95) rotate(0.03)" class="lg">18%</text>
<path d="M154.0,310.9 h18.5" stroke="#e0705f" stroke-width="0.9" stroke-dasharray="3.2,2.4,0.9,2.4" fill="none"/>
<path d="M163.25,308.70 l2.2,2.2 l-2.2,2.2 l-2.2,-2.2z" fill="#e0705f"/>
<text transform="translate(176.2,314.1) scale(0.92,0.95) rotate(0.03)" class="lg">12%</text>
<path d="M62.0,339.5 h18.5" stroke="#ffc000" stroke-width="0.9" stroke-dasharray="3.2,2.4,0.9,2.4" fill="none"/>
<path d="M71.25,337.30 l2.2,2.2 l-2.2,2.2 l-2.2,-2.2z" fill="#ffc000"/>
<text transform="translate(84.2,342.7) scale(0.92,0.95) rotate(0.03)" class="lg">8%</text>
<path d="M108.0,339.5 h18.5" stroke="#2f9ddc" stroke-width="0.9" stroke-dasharray="3.2,2.4,0.9,2.4" fill="none"/>
<path d="M117.25,337.30 l2.2,2.2 l-2.2,2.2 l-2.2,-2.2z" fill="#2f9ddc"/>
<text transform="translate(130.2,342.7) scale(0.92,0.95) rotate(0.03)" class="lg">4%</text>
<path d="M154.0,339.5 h18.5" stroke="#44aa3c" stroke-width="0.9" stroke-dasharray="3.2,2.4,0.9,2.4" fill="none"/>
<path d="M163.25,337.30 l2.2,2.2 l-2.2,2.2 l-2.2,-2.2z" fill="#44aa3c"/>
<text transform="translate(176.2,342.7) scale(0.92,0.95) rotate(0.03)" class="lg">2%</text>
<text transform="translate(48.3,291.3) scale(0.965,0.93) rotate(0.03)" class="ax" text-anchor="end">1000</text>
<text transform="translate(48.3,330.9) scale(0.965,0.93) rotate(0.03)" class="ax" text-anchor="end">100</text>
<text transform="translate(48.3,370.5) scale(0.965,0.93) rotate(0.03)" class="ax" text-anchor="end">10</text>
<text transform="translate(48.3,410.0) scale(0.965,0.93) rotate(0.03)" class="ax" text-anchor="end">1</text>
<text transform="translate(48.3,449.6) scale(0.965,0.93) rotate(0.03)" class="ax" text-anchor="end">0.1</text>
<text transform="translate(48.3,489.1) scale(0.965,0.93) rotate(0.03)" class="ax" text-anchor="end">0.01</text>
<text transform="translate(55.2,503.1) scale(0.965,0.93) rotate(0.03)" class="ax" text-anchor="middle">5</text>
<text transform="translate(222.6,503.1) scale(0.965,0.93) rotate(0.03)" class="ax" text-anchor="middle">50</text>
<text x="223" y="516.7" class="ti" text-anchor="middle">Angular frequency <tspan font-style="italic">ω</tspan> (rad/s)</text>
<text transform="translate(13.7,389.3) rotate(-90)" class="ti" text-anchor="middle">Loss modulus <tspan font-style="italic">G″</tspan> (Pa)</text>
<text x="192.8" y="546.0" class="cp" text-anchor="middle">(<tspan font-weight="bold">b</tspan>)</text>
</svg>
</body></html>
